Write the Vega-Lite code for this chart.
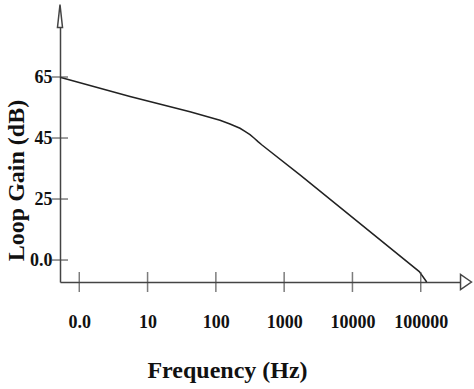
{
  "$schema": "https://vega.github.io/schema/vega-lite/v6.json",
  "width": 406,
  "height": 266,
  "autosize": {"type": "none"},
  "padding": {"left": 60, "top": 16, "right": 8, "bottom": 107},
  "background": "white",
  "config": {"view": {"stroke": null}, "font": "Liberation Serif"},
  "datasets": {
    "curve": [
      {"f": 0.522, "g": 64.9},
      {"f": 5.53, "g": 58.6},
      {"f": 41.8, "g": 53.6},
      {"f": 114.9, "g": 50.8},
      {"f": 161, "g": 49.6},
      {"f": 225.5, "g": 48.2},
      {"f": 267, "g": 47.2},
      {"f": 316, "g": 46.1},
      {"f": 361.5, "g": 45.0},
      {"f": 414, "g": 43.8},
      {"f": 473.5, "g": 42.7},
      {"f": 1705, "g": 32.9},
      {"f": 95200, "g": 1.2},
      {"f": 122200, "g": -2.2}
    ],
    "xticks": [{"f": 1, "g": -2.2}, {"f": 10, "g": -2.2}, {"f": 100, "g": -2.2}, {"f": 1000, "g": -2.2}, {"f": 10000, "g": -2.2}, {"f": 100000, "g": -2.2}],
    "yticks": [{"f": 0.522, "g": 5}, {"f": 0.522, "g": 25}, {"f": 0.522, "g": 45}, {"f": 0.522, "g": 65}],
    "xarrow": [{"f": 460000, "g": -2.2}],
    "yarrow": [{"f": 0.522, "g": 85}]
  },
  "layer": [
    {
      "data": {"name": "curve"},
      "mark": {"type": "line", "color": "#222", "strokeWidth": 1.5},
      "encoding": {
        "x": {
          "field": "f", "type": "quantitative", "title": "Frequency (Hz)",
          "scale": {"type": "log", "domain": [0.522, 460000], "nice": false},
          "axis": {
            "values": [1, 10, 100, 1000, 10000, 100000],
            "labelExpr": "datum.value < 2 ? '0.0' : format(datum.value, 'd')",
            "ticks": false, "tickSize": 0, "grid": false,
            "domainColor": "#444", "domainWidth": 1.5,
            "labelFont": "Liberation Serif", "labelFontWeight": "bold", "labelFontSize": 18, "labelColor": "#111",
            "labelPadding": 40, "labelBaseline": "middle", "labelFlush": false, "labelOverlap": false,
            "titleFont": "Liberation Serif", "titleFontSize": 24, "titleFontWeight": "bold", "titleColor": "#111",
            "titleX": 167, "titleY": 95, "titleBaseline": "alphabetic", "titleAlign": "center"
          }
        },
        "y": {
          "field": "g", "type": "quantitative", "title": "Loop Gain (dB)",
          "scale": {"domain": [-2.2, 85], "nice": false, "zero": false},
          "axis": {
            "values": [5, 25, 45, 65],
            "labelExpr": "datum.value == 5 ? '0.0' : datum.label",
            "ticks": false, "tickSize": 0, "grid": false,
            "domainColor": "#444", "domainWidth": 1.5,
            "labelFont": "Liberation Serif", "labelFontWeight": "bold", "labelFontSize": 18, "labelColor": "#111",
            "labelPadding": 8, "labelBaseline": "middle",
            "titleFont": "Liberation Serif", "titleFontSize": 24, "titleFontWeight": "bold", "titleColor": "#111",
            "titleAngle": 270, "titleX": -37, "titleY": 164, "titleBaseline": "alphabetic", "titleAlign": "center"
          }
        }
      }
    },
    {
      "data": {"name": "xticks"},
      "mark": {"type": "tick", "orient": "vertical", "size": 20, "thickness": 1.5, "color": "#444"},
      "encoding": {
        "x": {"field": "f", "type": "quantitative", "title": "Frequency (Hz)"},
        "y": {"field": "g", "type": "quantitative", "title": "Loop Gain (dB)"}
      }
    },
    {
      "data": {"name": "yticks"},
      "mark": {"type": "tick", "orient": "horizontal", "size": 16, "thickness": 1.5, "color": "#444"},
      "encoding": {
        "x": {"field": "f", "type": "quantitative", "title": "Frequency (Hz)"},
        "y": {"field": "g", "type": "quantitative", "title": "Loop Gain (dB)"}
      }
    },
    {
      "data": {"name": "xarrow"},
      "mark": {"type": "point", "shape": "M0.73,0L-0.73,-1L-0.73,1Z", "size": 225, "filled": true, "fill": "white", "stroke": "#444", "strokeWidth": 1.5, "opacity": 1},
      "encoding": {
        "x": {"field": "f", "type": "quantitative", "title": "Frequency (Hz)"},
        "y": {"field": "g", "type": "quantitative", "title": "Loop Gain (dB)"}
      }
    },
    {
      "data": {"name": "yarrow"},
      "mark": {"type": "point", "shape": "M0,-1L0.22,1L-0.22,1Z", "size": 529, "filled": true, "fill": "white", "stroke": "#444", "strokeWidth": 1.5, "opacity": 1},
      "encoding": {
        "x": {"field": "f", "type": "quantitative", "title": "Frequency (Hz)"},
        "y": {"field": "g", "type": "quantitative", "title": "Loop Gain (dB)"}
      }
    }
  ]
}
